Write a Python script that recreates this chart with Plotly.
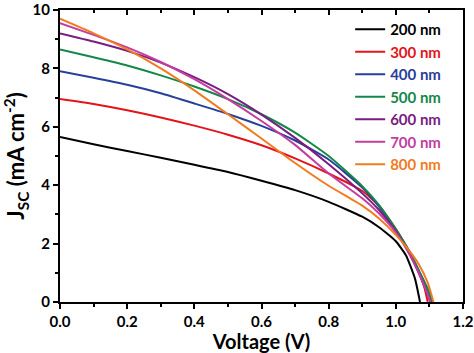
import plotly.graph_objects as go

labels = ["200 nm", "300 nm", "400 nm", "500 nm", "600 nm", "700 nm", "800 nm"]
colors = ["#000000", "#e3141b", "#27409a", "#14874a", "#7a1c80", "#c23d9f", "#f27b1f"]

v_200 = [0, 0.1, 0.2, 0.3, 0.4, 0.5, 0.6, 0.7, 0.8, 0.9, 0.95, 1.0, 1.03, 1.057, 1.072]
j_200 = [5.65, 5.4, 5.17, 4.94, 4.7, 4.45, 4.15, 3.83, 3.43, 2.92, 2.56, 2.08, 1.6, 0.8, 0]

v_300 = [0, 0.1, 0.2, 0.3, 0.4, 0.5, 0.6, 0.7, 0.8, 0.9, 0.95, 1.0, 1.04, 1.07, 1.085, 1.095]
j_300 = [6.95, 6.78, 6.57, 6.32, 6.04, 5.73, 5.37, 4.92, 4.4, 3.8, 3.3, 2.5, 1.7, 0.98, 0.5, 0]

v_400 = [0, 0.1, 0.2, 0.3, 0.4, 0.5, 0.6, 0.7, 0.8, 0.9, 0.95, 1.0, 1.04, 1.07, 1.095, 1.108]
j_400 = [7.9, 7.68, 7.44, 7.15, 6.8, 6.44, 6.03, 5.53, 4.88, 3.92, 3.27, 2.45, 1.72, 1.02, 0.42, 0]

v_500 = [0, 0.1, 0.2, 0.3, 0.4, 0.5, 0.6, 0.7, 0.8, 0.9, 0.95, 1.0, 1.04, 1.07, 1.095, 1.11]
j_500 = [8.65, 8.38, 8.1, 7.76, 7.38, 6.95, 6.43, 5.8, 5.0, 3.97, 3.32, 2.5, 1.75, 1.05, 0.45, 0]

v_600 = [0, 0.1, 0.2, 0.3, 0.4, 0.5, 0.6, 0.7, 0.8, 0.9, 0.95, 1.0, 1.04, 1.07, 1.09, 1.103]
j_600 = [9.2, 8.92, 8.6, 8.2, 7.7, 7.12, 6.42, 5.62, 4.72, 3.72, 3.15, 2.42, 1.66, 0.95, 0.4, 0]

v_700 = [0, 0.1, 0.2, 0.3, 0.4, 0.5, 0.6, 0.7, 0.8, 0.9, 0.95, 1.0, 1.04, 1.07, 1.09, 1.103]
j_700 = [9.55, 9.15, 8.72, 8.22, 7.63, 6.95, 6.2, 5.38, 4.4, 3.55, 3.03, 2.38, 1.65, 0.95, 0.4, 0]

v_800 = [0, 0.1, 0.2, 0.3, 0.4, 0.5, 0.6, 0.7, 0.8, 0.9, 0.95, 1.0, 1.04, 1.07, 1.095, 1.112]
j_800 = [9.7, 9.2, 8.65, 8.0, 7.25, 6.43, 5.6, 4.76, 3.98, 3.3, 2.86, 2.3, 1.76, 1.26, 0.66, 0]

voltages = [v_200, v_300, v_400, v_500, v_600, v_700, v_800]
currents = [j_200, j_300, j_400, j_500, j_600, j_700, j_800]

x_ticks = [0.0, 0.2, 0.4, 0.6, 0.8, 1.0, 1.2]
y_ticks = [0, 2, 4, 6, 8, 10]

FONT = "Lato"

fig = go.Figure()
for lab, col, vv, jj in zip(labels, colors, voltages, currents):
    fig.add_trace(go.Scatter(
        x=vv, y=jj, mode="lines",
        line=dict(color=col, width=2, shape="spline", smoothing=0.5),
        name=f"<span style='color:{col}'>{lab}</span>",
        legendgroup=lab,
    ))

# empty trace so the top (mirrored-tick) axis is drawn
fig.add_trace(go.Scatter(x=[None], y=[None], xaxis="x2", yaxis="y",
                         showlegend=False, hoverinfo="skip"))

axis_common = dict(
    showgrid=False, zeroline=False, automargin=False,
    ticklabeloverflow="allow",
    linecolor="black", linewidth=2,
    tickcolor="black", tickwidth=1.5, ticklen=5,
    tickfont=dict(family=FONT, size=15, color="black", weight="bold"),
)

fig.update_layout(
    width=474, height=353,
    margin=dict(l=60, r=11, t=10, b=51),
    paper_bgcolor="white", plot_bgcolor="white",
    font=dict(family=FONT, color="black"),
    showlegend=True,
    legend=dict(
        x=0.72, xanchor="left", y=0.99, yanchor="top",
        bgcolor="rgba(0,0,0,0)",
        font=dict(family=FONT, size=15, weight="bold"),
        tracegroupgap=0,
        itemwidth=30,
    ),
    xaxis=dict(
        range=[0, 1.2], tickvals=x_ticks, ticktext=[f"{t:.1f}" for t in x_ticks],
        ticks="outside", mirror=True,
        minor=dict(dtick=0.1, ticks="outside", ticklen=3, tickcolor="black", tickwidth=1.5),
        title=dict(text="Voltage (V)", font=dict(family=FONT, size=20, color="black", weight="bold"), standoff=6),
        **axis_common,
    ),
    xaxis2=dict(
        range=[0, 1.2], overlaying="x", side="top", tickvals=x_ticks,
        showticklabels=False, ticks="inside", showline=False, automargin=False,
        showgrid=False, zeroline=False, tickcolor="black", tickwidth=1.5, ticklen=5,
        minor=dict(dtick=0.1, ticks="inside", ticklen=3, tickcolor="black", tickwidth=1.5),
    ),
    yaxis=dict(
        range=[0, 10], tickvals=y_ticks,
        ticks="outside", mirror=True,
        minor=dict(dtick=1, ticks="outside", ticklen=3, tickcolor="black", tickwidth=1.5),
        title=dict(text="J<sub>SC</sub> (mA cm<sup>-2</sup>)", font=dict(family=FONT, size=22, color="black", weight="bold"), standoff=4),
        **axis_common,
    ),
)

fig.write_html("out.html")
